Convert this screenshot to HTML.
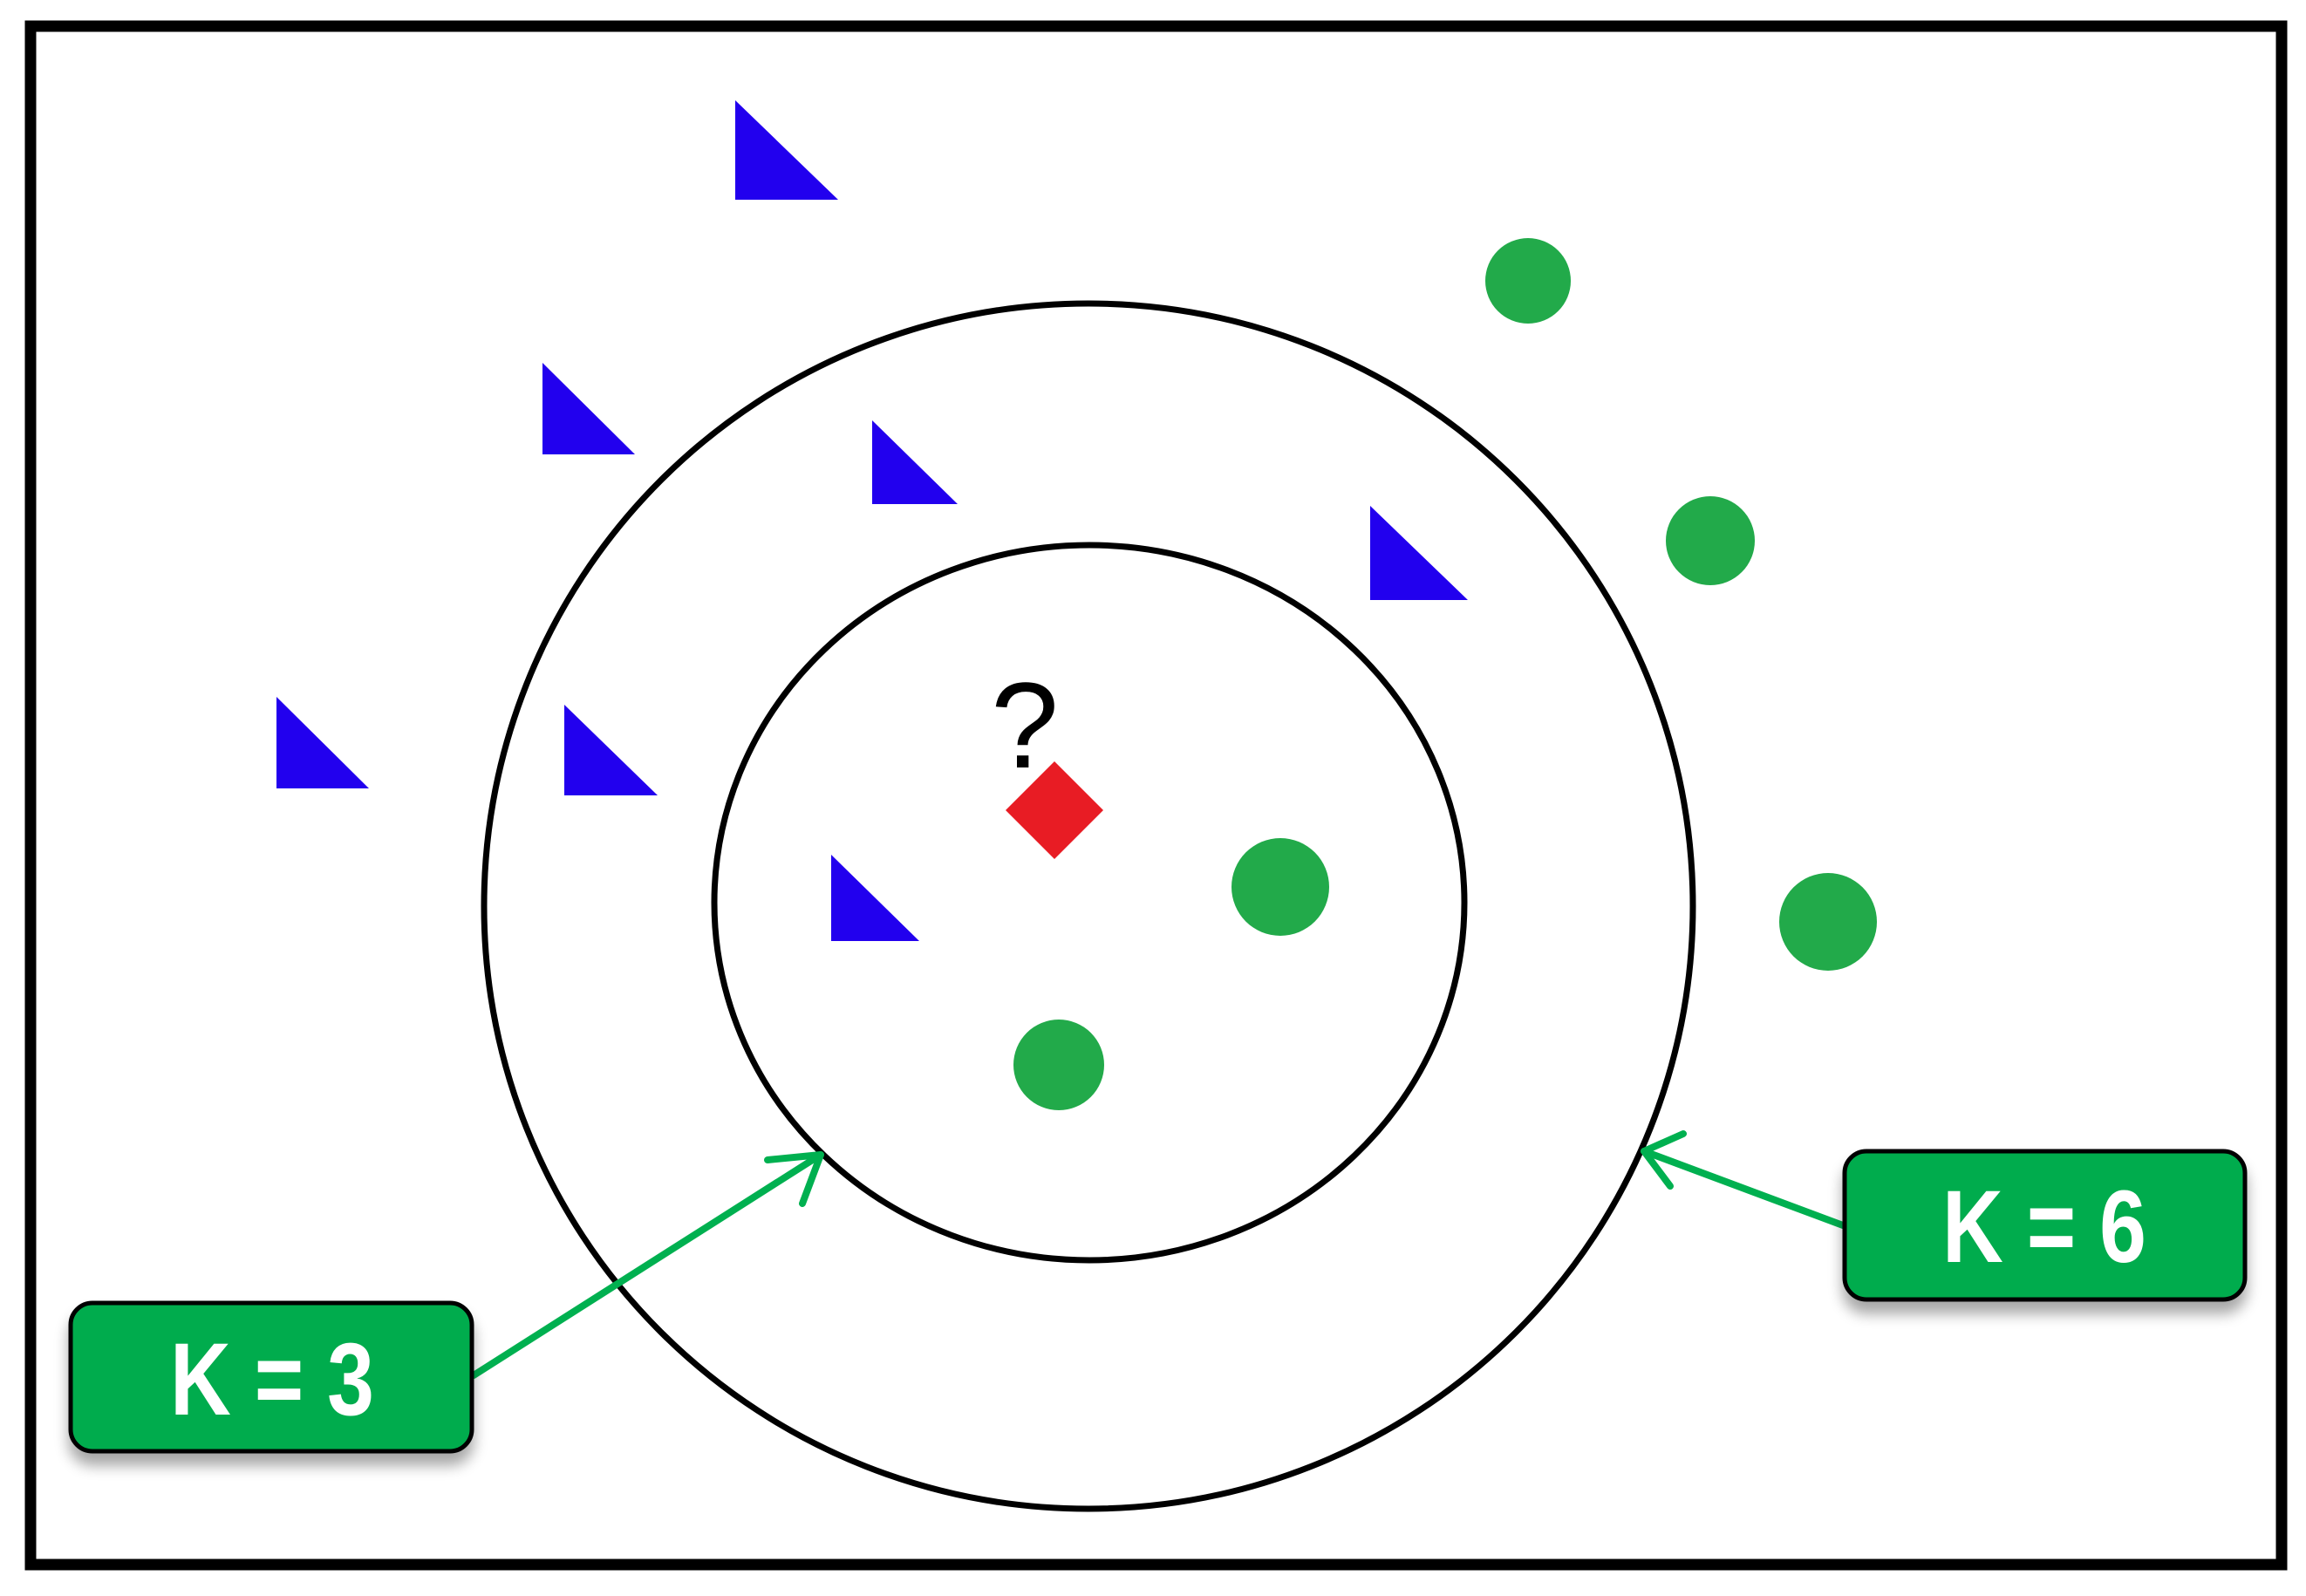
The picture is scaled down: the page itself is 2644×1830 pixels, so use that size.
<!DOCTYPE html>
<html><head><meta charset="utf-8"><style>
html,body{margin:0;padding:0;background:#fff}
svg{display:block}
</style></head><body>
<svg width="2644" height="1830" viewBox="0 0 2644 1830" xmlns="http://www.w3.org/2000/svg">
<defs>
<filter id="sh" x="-20%" y="-20%" width="140%" height="160%">
<feGaussianBlur in="SourceAlpha" stdDeviation="8"/><feOffset dx="0" dy="14"/>
<feComponentTransfer><feFuncA type="linear" slope="0.35"/></feComponentTransfer>
<feMerge><feMergeNode/><feMergeNode in="SourceGraphic"/></feMerge></filter>
</defs>
<rect x="0" y="0" width="2644" height="1830" fill="#fff"/>
<rect x="35" y="30" width="2581" height="1764" fill="none" stroke="#000" stroke-width="13"/>
<g fill="#2200ee">
<polygon points="843,115 843,229 961,229"/>
<polygon points="622,416 622,521 728,521"/>
<polygon points="1000,482 1000,578 1098,578"/>
<polygon points="1571,580 1571,688 1683,688"/>
<polygon points="317,799 317,904 423,904"/>
<polygon points="647,808 647,912 754,912"/>
<polygon points="953,980 953,1079 1054,1079"/>
</g>
<g fill="#22aa4a">
<circle cx="1752" cy="322" r="49"/>
<circle cx="1961" cy="620" r="51"/>
<circle cx="2096" cy="1057" r="56"/>
<circle cx="1468" cy="1017" r="56"/>
<circle cx="1214" cy="1221" r="52"/>
</g>
<polygon points="1209,873 1265,929 1209,985 1153,929" fill="#e81c24"/>
<text x="1175" y="880" font-family="Liberation Sans, sans-serif" font-size="140" text-anchor="middle" fill="#000">?</text>
<ellipse cx="1249" cy="1035" rx="430" ry="410" fill="none" stroke="#000" stroke-width="7"/>
<ellipse cx="1248" cy="1039" rx="693" ry="691" fill="none" stroke="#000" stroke-width="7"/>
<g stroke="#00b050" stroke-width="8" fill="none" stroke-linecap="round" stroke-linejoin="round">
<line x1="543" y1="1577" x2="941" y2="1324"/>
<polyline points="880,1330 941,1324 920,1380"/>
<line x1="2113" y1="1405" x2="1885" y2="1320"/>
<polyline points="1930,1300 1885,1320 1915,1360"/>
</g>
<g filter="url(#sh)">
<rect x="81" y="1494" width="460" height="170" rx="25" fill="#00ac4e" stroke="#000" stroke-width="5"/>
<rect x="2115" y="1320" width="459" height="170" rx="25" fill="#00ac4e" stroke="#000" stroke-width="5"/>
</g>
<text x="312" y="1622" font-family="Liberation Sans Narrow, Liberation Sans, sans-serif" font-weight="bold" font-size="118" text-anchor="middle" fill="#fff" transform="translate(312,0) scale(0.82,1) translate(-312,0)">K = 3</text>
<text x="2344" y="1447" font-family="Liberation Sans Narrow, Liberation Sans, sans-serif" font-weight="bold" font-size="118" text-anchor="middle" fill="#fff" transform="translate(2344,0) scale(0.82,1) translate(-2344,0)">K = 6</text>
</svg>
</body></html>
